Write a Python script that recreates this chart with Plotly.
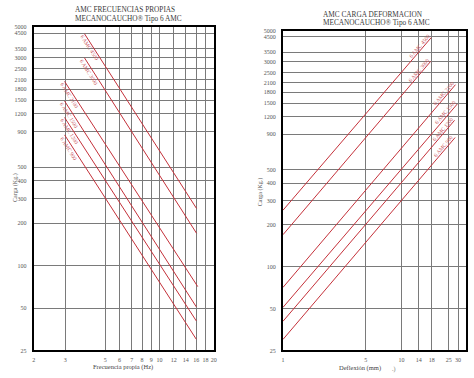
import math
import plotly.graph_objects as go

# ---------------- data ----------------
series_names = ["6 AMC 4500", "6 AMC 3000", "6 AMC 2100", "6 AMC 1500", "6 AMC 1200", "6 AMC 900"]

# Left chart: Frecuencia propia (Hz) vs Carga (Kg.)
freq_start = [3.83, 3.83, 2.97, 2.97, 2.97, 2.97]
freq_end = [16.05, 16.05, 16.3, 16.0, 16.0, 16.0]
load_max = [4450, 3000, 2040, 1480, 1130, 850]
load_min = [255, 170, 71, 51, 40.5, 30]

# Right chart: Deflexión (mm) vs Carga (Kg.)
defl_start = [1, 1, 1, 1, 1, 1]
defl_end = [17.8, 17.6, 28.5, 29.5, 28.0, 28.3]

y_ticks = [25, 50, 100, 200, 300, 400, 500, 900, 1200, 1500, 1800, 2100, 2500, 3000, 3500, 4500, 5000]
x_ticks_left = [2, 3, 5, 6, 7, 8, 9, 10, 12, 14, 16, 18, 20]
x_ticks_right = [1, 5, 10, 14, 18, 25, 30]

# ---------------- layout constants ----------------
W, H = 474, 378
L_x0, L_x1, L_y0, L_y1 = 32, 214, 24, 353
R_x0, R_x1, R_y0, R_y1 = 284, 469, 28, 353
L_xr = (2, 20)
R_xr = (1, 35)
Y_r = (25, 5000)

RED = "#c4313a"
LBL = "#c9565e"
GRID = "#7a7a7a"
SERIF = "Liberation Serif"

fig = go.Figure()

for i, name in enumerate(series_names):
    fig.add_trace(go.Scatter(x=[freq_start[i], freq_end[i]], y=[load_max[i], load_min[i]],
                             mode="lines", line=dict(color=RED, width=1),
                             xaxis="x", yaxis="y", showlegend=False, name=name))
    fig.add_trace(go.Scatter(x=[defl_start[i], defl_end[i]], y=[load_min[i], load_max[i]],
                             mode="lines", line=dict(color=RED, width=1),
                             xaxis="x2", yaxis="y2", showlegend=False, name=name))

tickfont = dict(family=SERIF, size=6, color="#555")

def xax(domain, rng, ticks, anchor):
    return dict(type="log", domain=domain, range=[math.log10(rng[0]), math.log10(rng[1])],
                tickvals=ticks, ticktext=[str(t) for t in ticks], tickfont=tickfont,
                showgrid=True, gridcolor=GRID, gridwidth=1, showline=True, linecolor="black",
                linewidth=2, mirror=True, ticks="", ticklen=0, zeroline=False, anchor=anchor,
                ticklabelstandoff=2)

def yax(domain, anchor):
    return dict(type="log", domain=domain, range=[math.log10(Y_r[0]), math.log10(Y_r[1])],
                tickvals=y_ticks, ticktext=[str(t) for t in y_ticks], tickfont=tickfont,
                showgrid=True, gridcolor=GRID, gridwidth=1, showline=True, linecolor="black",
                linewidth=2, mirror=True, ticks="", ticklen=0, zeroline=False, anchor=anchor,
                ticklabelstandoff=4)

annotations = []

lx_pd = (L_x1 - L_x0) / math.log10(L_xr[1] / L_xr[0])
ly_pd = (L_y1 - L_y0) / math.log10(Y_r[1] / Y_r[0])
rx_pd = (R_x1 - R_x0) / math.log10(R_xr[1] / R_xr[0])
ry_pd = (R_y1 - R_y0) / math.log10(Y_r[1] / Y_r[0])

for i, name in enumerate(series_names):
    # left chart label (at start of line, lower-left side)
    dx = (math.log10(freq_end[i]) - math.log10(freq_start[i])) * lx_pd
    dy = (math.log10(load_max[i]) - math.log10(load_min[i])) * ly_pd
    a = math.atan2(dy, dx)
    ux, uy = math.cos(a), math.sin(a)
    nx, ny = -uy, ux
    along, perp = 14, 3.5
    ox = along * ux + perp * nx
    oy = along * uy + perp * ny
    annotations.append(dict(x=math.log10(freq_start[i]), y=math.log10(load_max[i]), xref="x", yref="y",
                            text=name, showarrow=False, textangle=math.degrees(a),
                            font=dict(family=SERIF, size=5.5, color=LBL),
                            xshift=ox, yshift=-oy, xanchor="center", yanchor="middle"))
    # right chart label (at end of line, upper-left side)
    dx2 = (math.log10(defl_end[i]) - math.log10(defl_start[i])) * rx_pd
    dy2 = (math.log10(load_max[i]) - math.log10(load_min[i])) * ry_pd
    b = math.atan2(dy2, dx2)
    ux2, uy2 = math.cos(b), -math.sin(b)
    nx2, ny2 = uy2, -ux2
    along2, perp2 = 14, 3.5
    ox2 = -along2 * ux2 + perp2 * nx2
    oy2 = -along2 * uy2 + perp2 * ny2
    annotations.append(dict(x=math.log10(defl_end[i]), y=math.log10(load_max[i]), xref="x2", yref="y2",
                            text=name, showarrow=False, textangle=-math.degrees(b),
                            font=dict(family=SERIF, size=5.5, color=LBL),
                            xshift=ox2, yshift=-oy2, xanchor="center", yanchor="middle"))

def ptxt(x, y, text, size=7.3, color="#3a3a3a", angle=0, xanchor="left"):
    annotations.append(dict(x=x / W, y=1 - y / H, xref="paper", yref="paper", text=text,
                            showarrow=False, textangle=angle, xanchor=xanchor, yanchor="middle",
                            font=dict(family=SERIF, size=size, color=color)))

ptxt(72, 7, "AMC FRECUENCIAS PROPIAS")
ptxt(72, 16, "MECANOCAUCHO® Tipo 6 AMC")
ptxt(322, 12, "AMC CARGA DEFORMACION")
ptxt(322, 20, "MECANOCAUCHO® Tipo 6 AMC")
ptxt(13, 187, "Carga (Kg.)", size=6, color="#555", angle=-90, xanchor="center")
ptxt(262, 192, "Carga (Kg.)", size=6, color="#555", angle=-90, xanchor="center")
ptxt(122, 370, "Frecuencia propia (Hz)", size=6.5, color="#444", xanchor="center")
ptxt(362, 371, "Deflexión (mm)", size=6.5, color="#444", xanchor="center")
ptxt(396, 372, ".)", size=6, color="#777", xanchor="center")

fig.update_layout(
    width=W, height=H, margin=dict(l=0, r=0, t=0, b=0),
    paper_bgcolor="white", plot_bgcolor="white", showlegend=False,
    xaxis=xax([L_x0 / W, L_x1 / W], L_xr, x_ticks_left, "y"),
    yaxis=yax([1 - L_y1 / H, 1 - L_y0 / H], "x"),
    xaxis2=xax([R_x0 / W, R_x1 / W], R_xr, x_ticks_right, "y2"),
    yaxis2=yax([1 - R_y1 / H, 1 - R_y0 / H], "x2"),
    annotations=annotations,
)

fig.write_html("out.html", config={"displayModeBar": False},
               post_script="document.body.style.margin='0';document.body.style.overflow='hidden';")
